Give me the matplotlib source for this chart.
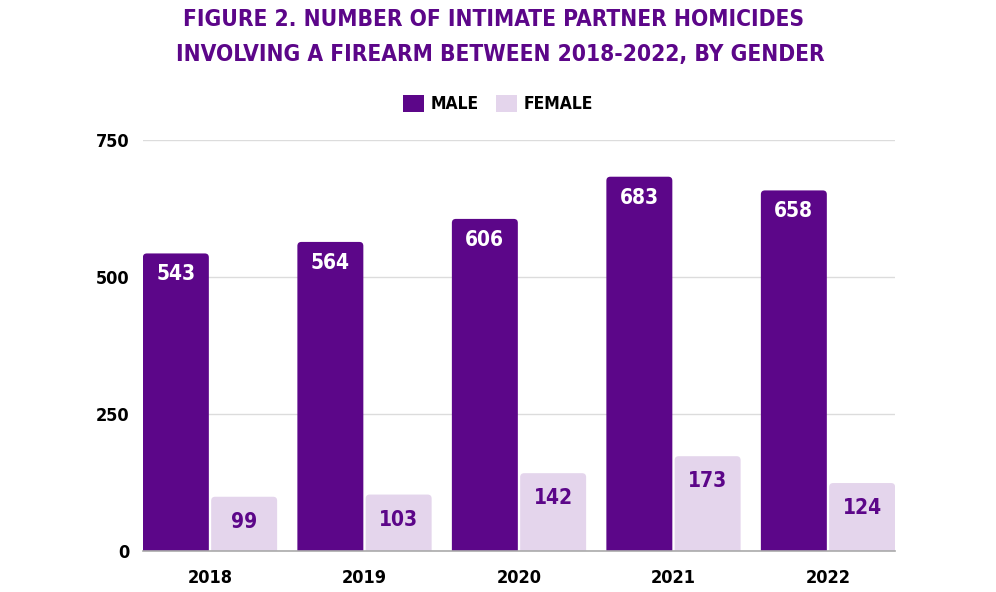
import numpy as np
import matplotlib
matplotlib.use("Agg")
import matplotlib.pyplot as plt
from matplotlib.patches import FancyBboxPatch, Rectangle

# data
years = ["2018", "2019", "2020", "2021", "2022"]
male = [543, 564, 606, 683, 658]
female = [99, 103, 142, 173, 124]

purple = "#5c0689"
lilac = "#e4d5ec"

plt.rcParams['font.family'] = ['DejaVu Sans']
plt.rcParams['font.stretch'] = 'condensed'
plt.rcParams['font.weight'] = 'bold'

fig = plt.figure(figsize=(9.96, 5.92), dpi=100)
ax = fig.add_axes([143 / 996, 1 - 551 / 592, 752 / 996, 411 / 592])

x = np.arange(len(years))
w = 0.427
off = 0.221
ax.set_xlim(-0.4337, 4.4337)
ax.set_ylim(0, 750)

# aspect of a pixel in data units so the rounded corners look round
px_x = 4.8674 / 752
px_y = 750 / 411
r = 4 * px_x


def rounded_bar(xc, h, color):
    box = FancyBboxPatch((xc - w / 2, -20), w, h + 20,
                         boxstyle=f"round,pad=0,rounding_size={r}",
                         mutation_aspect=px_y / px_x,
                         fc=color, ec="none", zorder=3)
    ax.add_patch(box)


for i in range(len(years)):
    rounded_bar(x[i] - off, male[i], purple)
    rounded_bar(x[i] + off, female[i], lilac)
    ax.annotate(str(male[i]), (x[i] - off, male[i]), xytext=(0, -15),
                textcoords="offset points", ha="center", va="center",
                color="white", fontsize=15, fontweight="bold", zorder=4)
    ax.annotate(str(female[i]), (x[i] + off, female[i]), xytext=(0, -18),
                textcoords="offset points", ha="center", va="center",
                color=purple, fontsize=15, fontweight="bold", zorder=4)

ax.set_yticks([0, 250, 500, 750])
ax.set_xticks(x)
ax.set_xticklabels(years)
ax.tick_params(length=0, labelsize=13)
ax.tick_params(axis="x", pad=13)
ax.tick_params(axis="y", pad=10)
ax.grid(axis="y", color="#dcdcdc", lw=1, zorder=0)
for s in ["top", "right", "left"]:
    ax.spines[s].set_visible(False)
ax.spines["bottom"].set_color("#aaaaaa")
ax.spines["bottom"].set_linewidth(1.2)
ax.spines["bottom"].set_zorder(5)

fig.text(0.496, 1 - 19 / 592, "FIGURE 2. NUMBER OF INTIMATE PARTNER HOMICIDES",
         ha="center", va="center", color=purple, fontsize=16.3, fontweight="bold")
fig.text(0.502, 1 - 55 / 592, "INVOLVING A FIREARM BETWEEN 2018-2022, BY GENDER",
         ha="center", va="center", color=purple, fontsize=16.3, fontweight="bold")

# legend
ax.legend(handles=[Rectangle((0, 0), 1, 1, fc=purple), Rectangle((0, 0), 1, 1, fc=lilac)],
          labels=["MALE", "FEMALE"], ncol=2, frameon=False,
          loc="center", bbox_to_anchor=(498 / 996, 1 - 104 / 592),
          bbox_transform=fig.transFigure, fontsize=12.5,
          handlelength=1.2, handleheight=1.2, handletextpad=0.4, columnspacing=1.0)

fig.savefig("out.png", dpi=100)
